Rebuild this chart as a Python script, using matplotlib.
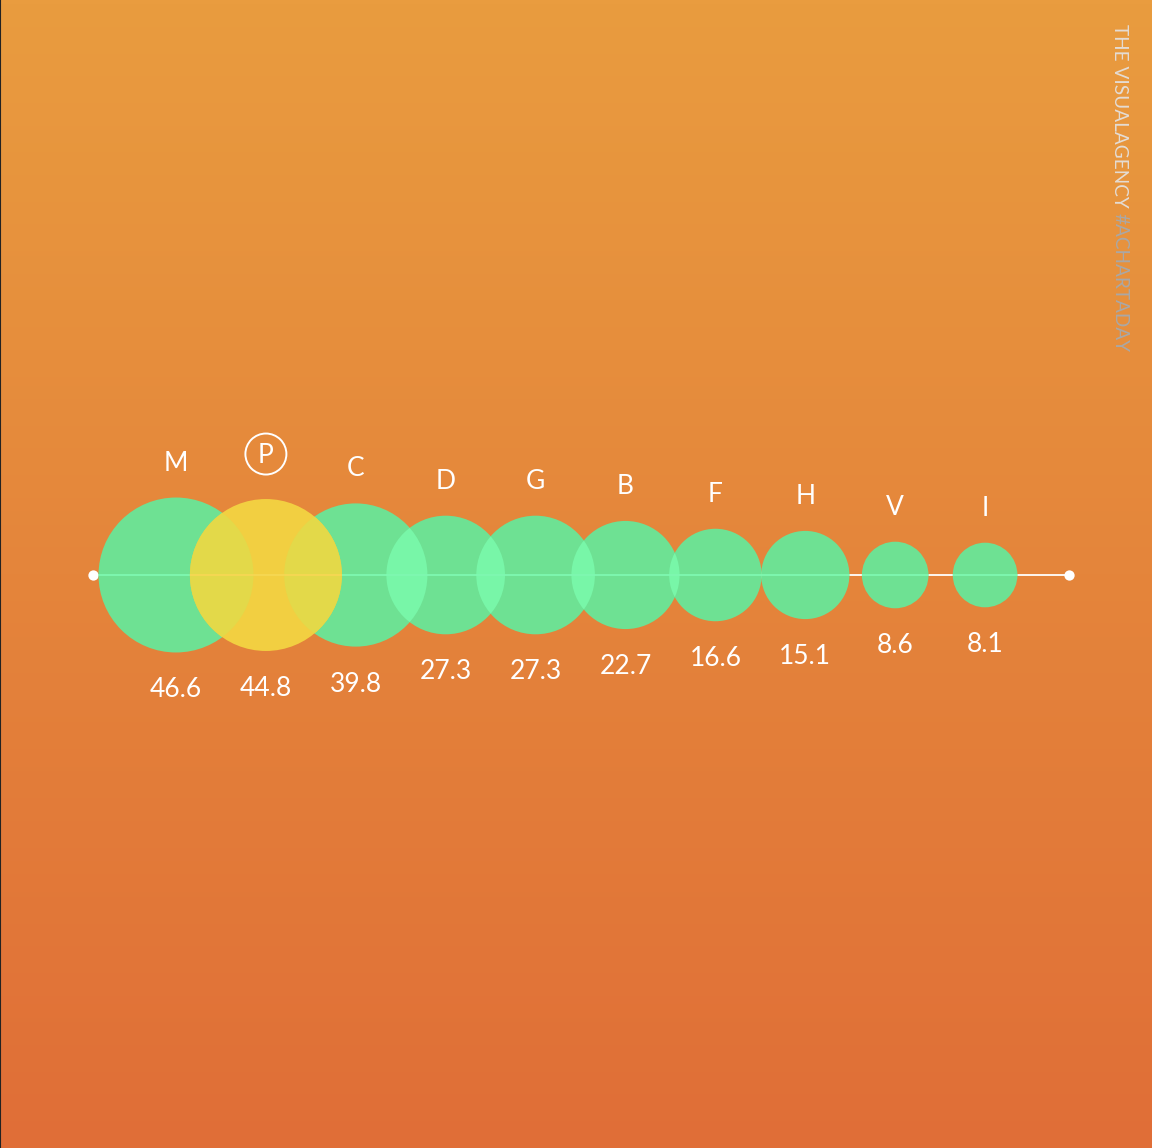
import numpy as np
import matplotlib
matplotlib.use("Agg")
import matplotlib.pyplot as plt
from matplotlib.patches import Circle
from matplotlib.colors import to_rgb

plt.rcParams['font.family'] = ['Lato', 'DejaVu Sans']

names = ["M", "P", "C", "D", "G", "B", "F", "H", "V", "I"]
values = [46.6, 44.8, 39.8, 27.3, 27.3, 22.7, 16.6, 15.1, 8.6, 8.1]
value_labels = ["46.6", "44.8", "39.8", "27.3", "27.3", "22.7", "16.6", "15.1", "8.6", "8.1"]
highlight = "P"

W, H = 1152, 1148
fig = plt.figure(figsize=(W / 100, H / 100), dpi=100)
ax = fig.add_axes([0, 0, 1, 1])
ax.set_xlim(0, W)
ax.set_ylim(H, 0)
ax.axis('off')

# background gradient
top = np.array(to_rgb("#E99C3F"))
bot = np.array(to_rgb("#E06E37"))
t = np.linspace(0, 1, 256)[:, None, None]
grad = top * (1 - t) + bot * t
ax.imshow(grad, extent=[0, W, H, 0], aspect='auto', zorder=0)
ax.plot([0.4, 0.4], [0, H], color='#222222', lw=0.8, zorder=10)

cy = 575
x0, step = 176, 89.9
k = 11.35
xs = [x0 + i * step for i in range(len(names))]
rs = [k * np.sqrt(v) for v in values]

green = "#6EE193"
green_ov = "#78F6A8"
yellow = "#F2CF41"
yel_ov = "#E3D949"
line_in_green = "#7EF8B0"
line_in_yellow = "#F6D752"

# base axis line
ax.plot([93, 1069], [cy, cy], color='white', lw=1.3, zorder=1, solid_capstyle='butt')
ax.scatter([93, 1069], [cy, cy], s=55, color='white', zorder=1, linewidths=0)

for i, (n, x, r) in enumerate(zip(names, xs, rs)):
    if n == highlight:
        continue
    ax.add_patch(Circle((x, cy), r, facecolor=green, edgecolor='none', zorder=2))
    ln, = ax.plot([x - r, x + r], [cy, cy], color=line_in_green, lw=1.3, zorder=3.5)
    ln.set_clip_path(Circle((x, cy), r, transform=ax.transData))

# overlaps between neighbours
for i in range(len(names) - 1):
    xa, ra = xs[i], rs[i]
    xb, rb = xs[i + 1], rs[i + 1]
    if xb - xa >= ra + rb:
        continue
    if highlight in (names[i], names[i + 1]):
        col, z = yel_ov, 5
    else:
        col, z = green_ov, 3
    p = Circle((xb, cy), rb, facecolor=col, edgecolor='none', zorder=z)
    ax.add_patch(p)
    p.set_clip_path(Circle((xa, cy), ra, transform=ax.transData))

hi = names.index(highlight)
ax.add_patch(Circle((xs[hi], cy), rs[hi], facecolor=yellow, edgecolor='none', zorder=4))
ln, = ax.plot([xs[hi] - rs[hi], xs[hi] + rs[hi]], [cy, cy], color=line_in_yellow, lw=1.3, zorder=6)
ln.set_clip_path(Circle((xs[hi], cy), rs[hi], transform=ax.transData))

# labels
for n, lab, x, r in zip(names, value_labels, xs, rs):
    if n == highlight:
        ly = cy - r - 46
        ax.text(x, ly + 10, n, color='white', fontsize=19, ha='center', va='baseline', zorder=7)
        ax.add_patch(Circle((x, ly + 1), 20.5, facecolor='none', edgecolor='white', lw=1.4, zorder=7))
    else:
        ax.text(x, cy - r - 27, n, color='white', fontsize=19, ha='center', va='baseline', zorder=7)
    ax.text(x, cy + r + 45, lab, color='white', fontsize=19, ha='center', va='baseline', zorder=7)

# watermark
ax.text(1120, 24, "THE VISUALAGENCY", rotation=-90, color='#E4DCD4', fontsize=13.7,
        ha='center', va='top', zorder=7)
ax.text(1120, 213, "#ACHARTADAY", rotation=-90, color='#AAA8A6', fontsize=13.7,
        ha='center', va='top', zorder=7)

fig.savefig("out.png", dpi=100)
